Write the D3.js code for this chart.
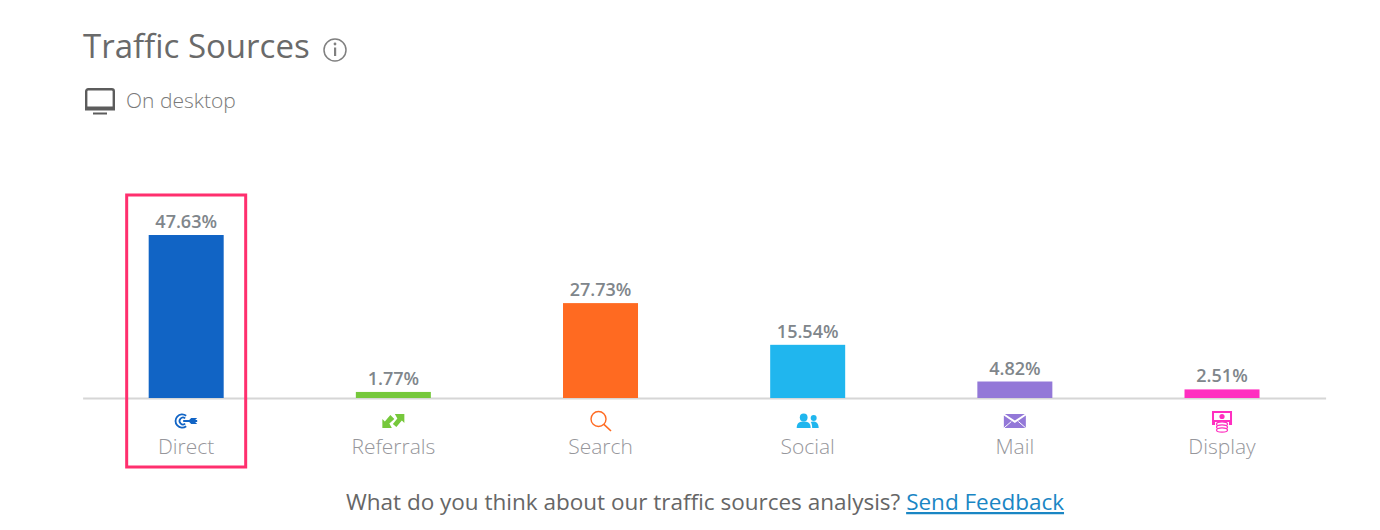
<!DOCTYPE html>
<html>
<head>
<meta charset="utf-8">
<script src="https://cdn.jsdelivr.net/npm/d3@7"></script>
<style>
  html, body { margin: 0; padding: 0; background: #fff; }
  text { font-family: "Open Sans", sans-serif; }
</style>
</head>
<body>
<script>
const categories = ["Direct", "Referrals", "Search", "Social", "Mail", "Display"];
const shares = [47.63, 1.77, 27.73, 15.54, 4.82, 2.51];
const barColors = ["#1164c5", "#76c83b", "#ff6a21", "#20b6ee", "#9378d8", "#ff2fc0"];
const highlighted = "Direct";

const w = 1380;
const h = 530;
const baseY = 398;
const pxPerPercent = 3.422;

const svg = d3.select("body").append("svg")
  .attr("width", w)
  .attr("height", h)
  .style("display", "block");

const xScale = d3.scaleBand()
  .domain(categories)
  .range([82.6, 1325.6]);

const yScale = d3.scaleLinear()
  .domain([0, 50])
  .range([baseY, baseY - 50 * pxPerPercent]);

const colorScale = d3.scaleOrdinal().domain(categories).range(barColors);
const center = d => xScale(d) + xScale.bandwidth() / 2;
const barWidth = 75;

// header
svg.append("text")
  .attr("x", 83).attr("y", 58)
  .attr("font-size", 33).attr("fill", "#6a6a6a")
  .text("Traffic Sources");

const info = svg.append("g").attr("transform", "translate(335,50)");
info.append("circle").attr("r", 11).attr("fill", "none").attr("stroke", "#808080").attr("stroke-width", 1.5);
info.append("rect").attr("x", -1).attr("y", -2.5).attr("width", 2.2).attr("height", 8.5).attr("fill", "#808080");
info.append("circle").attr("cy", -6).attr("r", 1.4).attr("fill", "#808080");

const monitor = svg.append("g").attr("transform", "translate(85,88)");
monitor.append("rect").attr("x", 1.2).attr("y", 1.2).attr("width", 27.6).attr("height", 19.6).attr("rx", 2)
  .attr("fill", "none").attr("stroke", "#5c5c5c").attr("stroke-width", 2.4);
monitor.append("rect").attr("x", 0).attr("y", 18.5).attr("width", 30).attr("height", 4).attr("fill", "#5c5c5c");
monitor.append("rect").attr("x", 8).attr("y", 24.5).attr("width", 14).attr("height", 2).attr("fill", "#5c5c5c");

svg.append("text")
  .attr("x", 126).attr("y", 108)
  .attr("font-size", 21).attr("font-weight", 300).attr("fill", "#7a7a7a")
  .text("On desktop");

// axis line
const xAxis = d3.axisBottom(xScale).tickSize(0).tickPadding(41);
const axisGroup = svg.append("g")
  .attr("transform", `translate(0, ${baseY})`)
  .call(xAxis);
axisGroup.select(".domain").attr("stroke", "#d6d6d6").attr("stroke-width", 2);
axisGroup.selectAll(".tick text")
  .attr("font-family", '"Open Sans", sans-serif')
  .attr("font-size", 21)
  .attr("font-weight", 300)
  .attr("fill", "#96969b");

// bars
svg.selectAll("rect.bar")
  .data(categories)
  .enter()
  .append("rect")
  .attr("class", "bar")
  .attr("x", d => center(d) - barWidth / 2)
  .attr("width", barWidth)
  .attr("y", (d, i) => yScale(shares[i]))
  .attr("height", (d, i) => baseY - yScale(shares[i]))
  .attr("fill", d => colorScale(d));

svg.selectAll("text.value")
  .data(categories)
  .enter()
  .append("text")
  .attr("class", "value")
  .attr("x", center)
  .attr("y", (d, i) => yScale(shares[i]) - 7)
  .attr("text-anchor", "middle")
  .attr("font-size", 18)
  .attr("font-weight", 600)
  .attr("fill", "#80868b")
  .text((d, i) => shares[i].toFixed(2) + "%");

// category icons, each drawn around its own centre
const iconDrawers = {
  Direct(g, c) {
    g.append("path").attr("d", "M3 -5.2 A6.6 6.6 0 1 0 3 5.2").attr("fill", "none").attr("stroke", c).attr("stroke-width", 1.8).attr("transform", "translate(-3,0)");
    g.append("path").attr("d", "M2 -2.6 A3.4 3.4 0 1 0 2 2.6").attr("fill", "none").attr("stroke", c).attr("stroke-width", 1.7).attr("transform", "translate(-3,0)");
    g.append("path").attr("d", "M-3 -1 H3 L5 -3 H11 L9 -1 H11 V1 H9 L11 3 H5 L3 1 H-3 Z").attr("fill", c);
  },
  Referrals(g, c) {
    g.append("path").attr("d", "M-11 7 L-11 -2 L-8.5 0.5 L-3 -6 L1 -2 L-4 2.5 L-1.5 7 Z").attr("fill", c);
    g.append("path").attr("d", "M11 -7 L11 2 L8.5 -0.5 L3 6 L-0.5 3 L4 -2.5 L1.5 -7 Z").attr("fill", c);
  },
  Search(g, c) {
    g.append("circle").attr("cx", -2).attr("cy", -2).attr("r", 7.5).attr("fill", "none").attr("stroke", c).attr("stroke-width", 1.4);
    g.append("line").attr("x1", 3.4).attr("y1", 3.4).attr("x2", 10.5).attr("y2", 10).attr("stroke", c).attr("stroke-width", 1.6);
  },
  Social(g, c) {
    g.append("circle").attr("cx", -4).attr("cy", -3.5).attr("r", 3.9).attr("fill", c);
    g.append("path").attr("d", "M-11 7 C-11 1 -7 0.5 -4 0.5 C-1 0.5 3 1 3 7 Z").attr("fill", c);
    g.append("circle").attr("cx", 6).attr("cy", -3).attr("r", 3).attr("fill", c);
    g.append("path").attr("d", "M4.5 7 C4.5 3 3.5 1.5 3 1 C5 0 11 -0.5 11 7 Z").attr("fill", c);
  },
  Mail(g, c) {
    g.append("path").attr("d", "M-11 -5.5 L0 2 L11 -5.5 V7 H-11 Z").attr("fill", c);
    g.append("path").attr("d", "M-10 -7 H10 L0 -0.5 Z").attr("fill", c);
    g.append("path").attr("d", "M-11 7 L-3.5 0.5 M11 7 L3.5 0.5").attr("stroke", "#fff").attr("stroke-width", 1);
  },
  Display(g, c) {
    g.append("rect").attr("x", -10).attr("y", -10).attr("width", 20).attr("height", 11).attr("fill", c);
    g.append("rect").attr("x", -8).attr("y", -8).attr("width", 16).attr("height", 7).attr("fill", "#fff");
    g.append("circle").attr("cy", -4.5).attr("r", 2.6).attr("fill", c);
    g.append("rect").attr("x", -10).attr("y", 1).attr("width", 3).attr("height", 3).attr("fill", c);
    g.append("rect").attr("x", 7).attr("y", 1).attr("width", 3).attr("height", 3).attr("fill", c);
    [3, 6, 9].forEach(y => {
      g.append("ellipse").attr("cy", y).attr("rx", 5.5).attr("ry", 2.2).attr("fill", "#fff").attr("stroke", c).attr("stroke-width", 1.2);
    });
  }
};

categories.forEach(d => {
  const g = svg.append("g").attr("transform", `translate(${center(d)}, 421)`);
  iconDrawers[d](g, colorScale(d));
});

// highlight frame around the selected source
svg.append("rect")
  .attr("x", center(highlighted) - 59.5)
  .attr("y", 195)
  .attr("width", 119)
  .attr("height", 272)
  .attr("fill", "none")
  .attr("stroke", "#ff2f6e")
  .attr("stroke-width", 3);

// footer
const footer = svg.append("text")
  .attr("x", 705).attr("y", 510)
  .attr("text-anchor", "middle")
  .attr("font-size", 22.5)
  .attr("fill", "#666");
footer.append("tspan").text("What do you think about our traffic sources analysis? ");
footer.append("tspan").attr("fill", "#1a86c4").attr("text-decoration", "underline").text("Send Feedback");
</script>
</body>
</html>
